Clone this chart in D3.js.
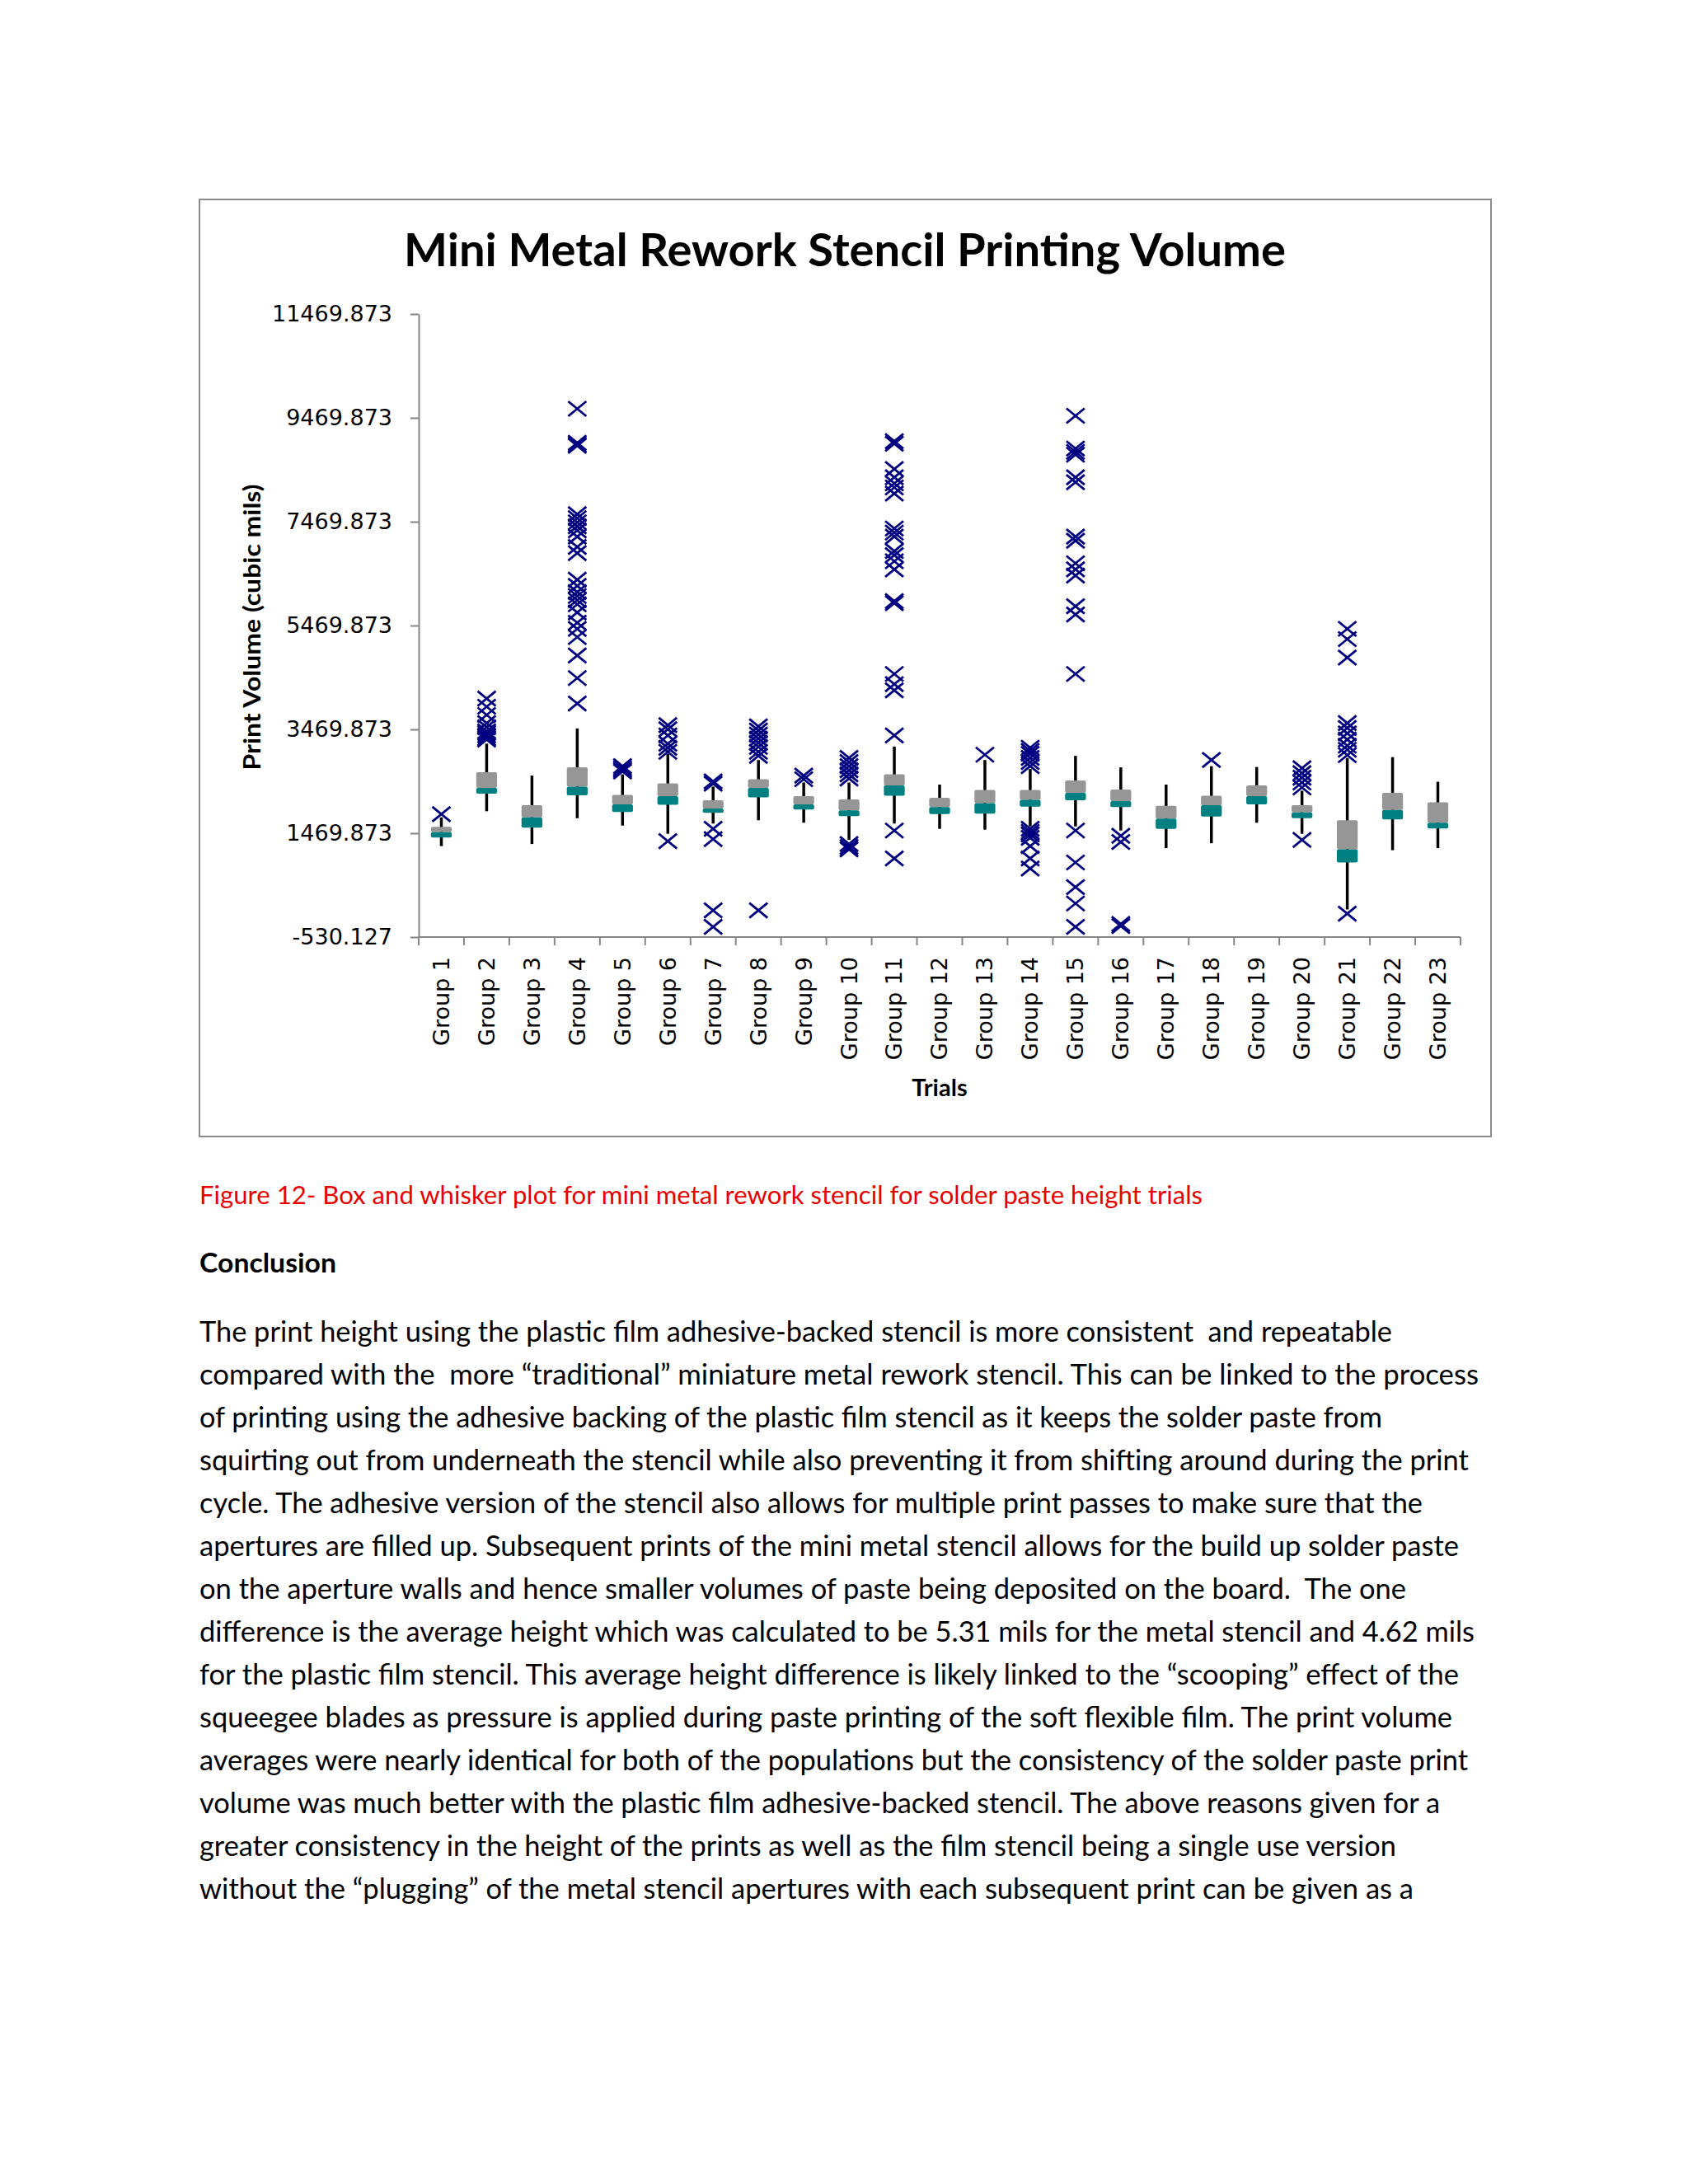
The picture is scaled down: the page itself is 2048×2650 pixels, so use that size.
<!DOCTYPE html>
<html>
<head>
<meta charset="utf-8">
<script src="https://cdn.jsdelivr.net/npm/d3@7"></script>
<style>
body { margin: 0; background: #fff; }
text { white-space: pre; }
</style>
</head>
<body>
<div id="grafico"></div>
<script>
// Datos (volumen en mils cúbicos)
var grupos = ["Group 1", "Group 2", "Group 3", "Group 4", "Group 5", "Group 6", "Group 7", "Group 8",
    "Group 9", "Group 10", "Group 11", "Group 12", "Group 13", "Group 14", "Group 15", "Group 16",
    "Group 17", "Group 18", "Group 19", "Group 20", "Group 21", "Group 22", "Group 23"];

var bigoteAlto = [1775, 3195, 2580, 3488, 2603, 2998, 2367, 2880, 2446, 2446, 3140, 2406,
    2880, 2706, 2959, 2738, 2406, 2761, 2745, 2288, 2919, 2935, 2461];
var cuartil3 = [1593, 2643, 2011, 2738, 2209, 2430, 2106, 2509, 2185, 2122, 2603, 2154,
    2304, 2304, 2485, 2311, 1996, 2193, 2390, 2011, 1720, 2248, 2067];
var mediana = [1490, 2343, 1775, 2367, 2027, 2185, 1948, 2343, 2027, 1909, 2390, 1972,
    2051, 2114, 2248, 2090, 1751, 2011, 2185, 1869, 1159, 1917, 1672];
var cuartil1 = [1388, 2233, 1577, 2201, 1877, 2019, 1862, 2162, 1925, 1798, 2193, 1838,
    1846, 1980, 2106, 1972, 1554, 1791, 2027, 1759, 907, 1735, 1562];
var bigoteBajo = [1222, 1893, 1262, 1759, 1617, 1459, 1656, 1720, 1672, 1341, 1656, 1554,
    1538, 1601, 1601, 1522, 1183, 1277, 1672, 1459, 0, 1143, 1183];

var atipicos = [
    [1838],
    [4064, 3906, 3748, 3590, 3511, 3432, 3400, 3353, 3300, 3274],
    [],
    [9644, 8990, 8957, 8930, 7616, 7537, 7458, 7380, 7300, 7182, 6984, 6866, 6353, 6234, 6116, 6037,
        5958, 5879, 5721, 5524, 5405, 5248, 4892, 4458, 3969],
    [2761, 2722, 2690, 2659],
    [3551, 3472, 3353, 3195, 3116, 3037, 1317],
    [2469, 2422, 1554, 1356, -17, -333],
    [3527, 3448, 3369, 3290, 3211, 3132, 3037, 2959, -17],
    [2580, 2509],
    [2919, 2840, 2761, 2682, 2603, 2524, 1262, 1206, 1159],
    [9020, 8973, 8484, 8326, 8208, 8129, 8011, 7339, 7260, 7182, 6905, 6826, 6708, 6550, 5940, 5900,
        4537, 4340, 4221, 3353, 1522, 985],
    [],
    [2982],
    [3117, 3054, 2998, 2919, 2840, 2761, 1554, 1498, 1443, 1380, 1222, 985, 788],
    [9510, 8878, 8815, 8760, 8326, 8231, 7181, 7103, 6668, 6550, 6432, 5840, 5682, 4537, 1522, 907,
        433, 117, -333],
    [1420, 1301, -277, -317],
    [],
    [2880],
    [],
    [2722, 2627, 2540, 2446, 2351, 1341],
    [5406, 5208, 4853, 3590, 3495, 3393, 3274, 3156, 3077, 2974, -80],
    [],
    []
];

var marcasY = [-530.127, 1469.873, 3469.873, 5469.873, 7469.873, 9469.873, 11469.873];

// Texto de la página bajo el gráfico
var leyendaFigura = "Figure 12- Box and whisker plot for mini metal rework stencil for solder paste height trials";
var parrafo = [
    "The print height using the plastic film adhesive-backed stencil is more consistent  and repeatable",
    "compared with the  more \u201ctraditional\u201d miniature metal rework stencil. This can be linked to the process",
    "of printing using the adhesive backing of the plastic film stencil as it keeps the solder paste from",
    "squirting out from underneath the stencil while also preventing it from shifting around during the print",
    "cycle. The adhesive version of the stencil also allows for multiple print passes to make sure that the",
    "apertures are filled up. Subsequent prints of the mini metal stencil allows for the build up solder paste",
    "on the aperture walls and hence smaller volumes of paste being deposited on the board.  The one",
    "difference is the average height which was calculated to be 5.31 mils for the metal stencil and 4.62 mils",
    "for the plastic film stencil. This average height difference is likely linked to the \u201cscooping\u201d effect of the",
    "squeegee blades as pressure is applied during paste printing of the soft flexible film. The print volume",
    "averages were nearly identical for both of the populations but the consistency of the solder paste print",
    "volume was much better with the plastic film adhesive-backed stencil. The above reasons given for a",
    "greater consistency in the height of the prints as well as the film stencil being a single use version",
    "without the \u201cplugging\u201d of the metal stencil apertures with each subsequent print can be given as a"
];
// anchos medidos de cada línea (px)
var anchoLineas = [1447, 1552, 1435, 1540, 1484, 1528, 1464, 1547, 1528, 1520, 1539, 1505, 1452, 1473];

var fuenteTexto = "Lato, 'Open Sans', sans-serif";
var fuenteEjes = "'DejaVu Sans', Verdana, sans-serif";

var svg = d3.select("#grafico")
    .append("svg")
    .attr("width", 2048)
    .attr("height", 2650);

svg.append("rect").attr("width", 2048).attr("height", 2650).attr("fill", "#ffffff");

// Marco del gráfico
svg.append("rect")
    .attr("x", 242).attr("y", 242)
    .attr("width", 1567).attr("height", 1137)
    .attr("fill", "none")
    .attr("stroke", "#8c8c8c")
    .attr("stroke-width", 2);

// Título
svg.append("text")
    .attr("x", 1025).attr("y", 323)
    .attr("text-anchor", "middle")
    .attr("font-family", fuenteTexto)
    .attr("font-weight", "bold")
    .attr("font-size", 56)
    .attr("textLength", 1070)
    .attr("lengthAdjust", "spacingAndGlyphs")
    .text("Mini Metal Rework Stencil Printing Volume");

// Escalas
var x = d3.scaleBand().domain(grupos).range([508, 1772]);
var y = d3.scaleLinear().domain([-530.127, 11469.873]).range([1137, 381]);

// Eje Y (guion normal en lugar del signo menos tipográfico)
var formatoY = d => d3.format(".3f")(d).replace("\u2212", "-");
var ejeY = svg.append("g")
    .attr("transform", "translate(508,0)")
    .call(d3.axisLeft(y).tickValues(marcasY).tickFormat(formatoY).tickSize(10).tickSizeOuter(0).tickPadding(22));
ejeY.select(".domain").attr("stroke", "#868686").attr("stroke-width", 2);
ejeY.selectAll(".tick line").attr("stroke", "#868686").attr("stroke-width", 2);
ejeY.selectAll(".tick text")
    .attr("font-family", fuenteEjes)
    .attr("font-size", 27)
    .attr("fill", "#000");

// Título del eje Y
svg.append("text")
    .attr("transform", "translate(316,761) rotate(-90)")
    .attr("text-anchor", "middle")
    .attr("font-family", fuenteTexto)
    .attr("font-weight", "bold")
    .attr("font-size", 29)
    .attr("textLength", 347)
    .attr("lengthAdjust", "spacingAndGlyphs")
    .text("Print Volume (cubic mils)");

// Eje X: línea y marcas en los límites de cada categoría
svg.append("line")
    .attr("x1", x.range()[0]).attr("x2", x.range()[1])
    .attr("y1", y(-530.127)).attr("y2", y(-530.127))
    .attr("stroke", "#868686").attr("stroke-width", 2);

var limites = grupos.map(g => x(g)).concat([x.range()[1]]);
svg.selectAll(".marcaX")
    .data(limites)
    .enter()
    .append("line")
    .attr("class", "marcaX")
    .attr("x1", d => d).attr("x2", d => d)
    .attr("y1", y(-530.127)).attr("y2", y(-530.127) + 10)
    .attr("stroke", "#868686").attr("stroke-width", 2);

svg.selectAll(".etiquetaX")
    .data(grupos)
    .enter()
    .append("text")
    .attr("class", "etiquetaX")
    .attr("transform", d => "translate(" + (x(d) + x.bandwidth() / 2) + "," + (y(-530.127) + 24) + ") rotate(-90)")
    .attr("dy", "0.35em")
    .attr("text-anchor", "end")
    .attr("font-family", fuenteEjes)
    .attr("font-size", 27)
    .text(d => d);

svg.append("text")
    .attr("x", (x.range()[0] + x.range()[1]) / 2).attr("y", 1330)
    .attr("text-anchor", "middle")
    .attr("font-family", fuenteTexto)
    .attr("font-weight", "bold")
    .attr("font-size", 29)
    .text("Trials");

// Cajas y bigotes
var datos = grupos.map((g, i) => ({
    grupo: g, alto: bigoteAlto[i], q3: cuartil3[i], med: mediana[i], q1: cuartil1[i], bajo: bigoteBajo[i], fuera: atipicos[i]
}));

var anchoCaja = x.bandwidth() * 0.46;

var cajas = svg.selectAll(".caja")
    .data(datos)
    .enter()
    .append("g")
    .attr("class", "caja")
    .attr("transform", d => "translate(" + (x(d.grupo) + x.bandwidth() / 2) + ",0)");

cajas.append("line")
    .attr("x1", 0).attr("x2", 0)
    .attr("y1", d => y(d.bajo)).attr("y2", d => y(d.alto))
    .attr("stroke", "#000").attr("stroke-width", 3.5);

cajas.append("rect")
    .attr("x", -anchoCaja / 2).attr("width", anchoCaja)
    .attr("y", d => y(d.q3)).attr("height", d => y(d.med) - y(d.q3))
    .attr("rx", 2)
    .attr("fill", "#969696");

cajas.append("rect")
    .attr("x", -anchoCaja / 2).attr("width", anchoCaja)
    .attr("y", d => y(d.med)).attr("height", d => y(d.q1) - y(d.med))
    .attr("rx", 2)
    .attr("fill", "#008080");

// Valores atípicos (cruces)
cajas.selectAll(".atipico")
    .data(d => d.fuera)
    .enter()
    .append("path")
    .attr("class", "atipico")
    .attr("transform", v => "translate(0," + y(v) + ")")
    .attr("d", "M-11,-9L11,9M-11,9L11,-9")
    .attr("fill", "none")
    .attr("stroke", "#000080")
    .attr("stroke-width", 2.8);

// Pie de figura y texto
svg.append("text")
    .attr("x", 242).attr("y", 1461)
    .attr("font-family", fuenteTexto)
    .attr("font-size", 30)
    .attr("fill", "#e60000")
    .attr("textLength", 1217)
    .attr("lengthAdjust", "spacingAndGlyphs")
    .text(leyendaFigura);

svg.append("text")
    .attr("x", 242).attr("y", 1544)
    .attr("font-family", fuenteTexto)
    .attr("font-weight", "bold")
    .attr("font-size", 33)
    .attr("textLength", 166)
    .attr("lengthAdjust", "spacingAndGlyphs")
    .text("Conclusion");

svg.selectAll(".linea")
    .data(parrafo)
    .enter()
    .append("text")
    .attr("class", "linea")
    .attr("x", 242)
    .attr("y", (d, i) => 1628 + i * 52)
    .attr("font-family", fuenteTexto)
    .attr("font-size", 34)
    .attr("textLength", (d, i) => anchoLineas[i])
    .attr("lengthAdjust", "spacingAndGlyphs")
    .text(d => d);
</script>
</body>
</html>
